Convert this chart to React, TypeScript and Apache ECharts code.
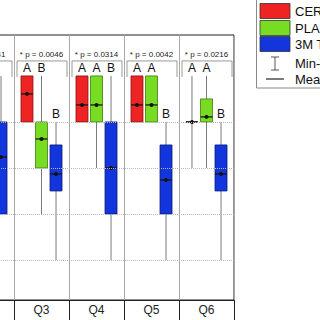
import React, { useEffect, useRef } from "react";
import * as echarts from "echarts";

const categories = ["Q2", "Q3", "Q4", "Q5", "Q6"];
// each entry: [min, q1, mean, q3, max]
const cerec = [
  [3, 4, 4.4, 5, 5],
  [4, 4, 4.61, 5, 5],
  [4, 4, 4.37, 5, 5],
  [4, 4, 4.37, 5, 5],
  [3, 4, 4, 4, 5],
];
const planmeca = [
  [3, 4, 4.3, 5, 5],
  [2, 3, 3.63, 4, 5],
  [3, 4, 4.37, 5, 5],
  [4, 4, 4.37, 5, 5],
  [3, 4, 4.11, 4.5, 5],
];
const trueDef = [
  [2, 2, 3.24, 4, 5],
  [1, 2.5, 2.87, 3.5, 4],
  [1, 2, 3, 4, 5],
  [1, 2, 2.74, 3.5, 4],
  [1, 2.5, 2.87, 3.5, 4],
];
const cerecLetters = ["", "A", "A", "A", "A"];
const planmecaLetters = ["", "B", "A", "A", "A"];
const trueDefLetters = ["", "B", "B", "B", "B"];
const pTexts = ["p = 0.1541", "* p = 0.0046", "* p = 0.0314", "* p = 0.0042", "* p = 0.0216"];
const gridValues = [1, 2, 3, 4];
const bracketLevel = 5;
const legendNames = ["CEREC", "PLANMECA", "3M True Definition", "Min-Max", "Mean"];

const colors = ["#ee2424", "#78dc22", "#1236dc"];
const strokes = ["#8a1010", "#3f7a10", "#0a1a7a"];
const FONT = "Liberation Sans, Arial, sans-serif";
const SHIFT = 41; // the chart canvas starts left of the visible page

function makeBoxSeries(name: string, values: number[][], letters: string[], idx: number) {
  return {
    type: "custom",
    name,
    clip: false,
    z: 3,
    data: values.map((v, i) => [i, ...v]),
    encode: { x: 0, y: [1, 2, 3, 4, 5] },
    renderItem: (params: any, api: any) => {
      const c = api.value(0);
      const band = api.size([1, 0])[0];
      const off = (idx - 1) * band * 0.264;
      const w = band * 0.218;
      const p = api.coord([c, api.value(1)]);
      const x = p[0] + off;
      const yMin = p[1];
      const yQ1 = api.coord([c, api.value(2)])[1];
      const yMean = api.coord([c, api.value(3)])[1];
      const yQ3 = api.coord([c, api.value(4)])[1];
      const yMax = api.coord([c, api.value(5)])[1];
      return {
        type: "group",
        children: [
          {
            type: "line",
            shape: { x1: x, y1: yMax, x2: x, y2: yMin },
            style: { stroke: "#7a7a7a", lineWidth: 1 },
          },
          {
            type: "rect",
            shape: { x: x - w / 2, y: yQ3, width: w, height: yQ1 - yQ3 },
            style: { fill: colors[idx], stroke: strokes[idx], lineWidth: 0.8 },
          },
          {
            type: "line",
            shape: { x1: x - w / 2, y1: yMean, x2: x + w / 2, y2: yMean },
            style: { stroke: "#111", lineWidth: 1.2 },
          },
          {
            type: "circle",
            shape: { cx: x, cy: yMean, r: 2 },
            style: { fill: "#111" },
          },
          {
            type: "text",
            style: {
              text: letters[params.dataIndex],
              x,
              y: yMax - 8,
              align: "center",
              verticalAlign: "middle",
              fontSize: 12,
              fontFamily: FONT,
              fill: "#111",
            },
          },
        ],
      };
    },
  };
}

export default function App() {
  const ref = useRef<HTMLDivElement>(null);
  useEffect(() => {
    if (!ref.current) return;
    const chart = echarts.init(ref.current, null, { renderer: "svg" });
    const legendItems: any[] = [
      {
        type: "rect",
        shape: { x: 256.5 + SHIFT, y: -5, width: 80, height: 93 },
        style: { fill: "#fff", stroke: "#8a8a8a", lineWidth: 1 },
      },
    ];
    const rowY = [11, 28, 44, 63, 79];
    legendNames.forEach((n, i) => {
      if (i < 3) {
        legendItems.push({
          type: "rect",
          shape: { x: 260 + SHIFT, y: rowY[i] - 7.5, width: 30, height: 15 },
          style: { fill: colors[i], stroke: "#333", lineWidth: 0.8 },
        });
      } else if (i === 3) {
        legendItems.push(
          { type: "line", shape: { x1: 275 + SHIFT, y1: 57, x2: 275 + SHIFT, y2: 70 }, style: { stroke: "#555", lineWidth: 1 } },
          { type: "line", shape: { x1: 271 + SHIFT, y1: 57, x2: 279 + SHIFT, y2: 57 }, style: { stroke: "#555", lineWidth: 1 } },
          { type: "line", shape: { x1: 271 + SHIFT, y1: 70, x2: 279 + SHIFT, y2: 70 }, style: { stroke: "#555", lineWidth: 1 } }
        );
      } else {
        legendItems.push({
          type: "line",
          shape: { x1: 266 + SHIFT, y1: rowY[i], x2: 284 + SHIFT, y2: rowY[i] },
          style: { stroke: "#222", lineWidth: 1.2 },
        });
      }
      legendItems.push({
        type: "text",
        style: {
          text: n,
          x: 295 + SHIFT,
          y: rowY[i],
          verticalAlign: "middle",
          fontSize: 13,
          fontFamily: FONT,
          fill: "#111",
        },
      });
    });

    const option: any = {
      animation: false,
      grid: {
        left: 0,
        right: 86,
        top: 35,
        bottom: 20,
        show: true,
        borderColor: "#222",
        borderWidth: 1,
        backgroundColor: "transparent",
      },
      xAxis: {
        type: "category",
        data: categories,
        axisLine: { show: true, lineStyle: { color: "#222" } },
        axisTick: { show: true, interval: 0, length: 20, lineStyle: { color: "#222" } },
        axisLabel: { fontSize: 12, color: "#222", fontFamily: FONT, margin: 4, interval: 0 },
        splitLine: { show: true, interval: 0, lineStyle: { color: "#a8a8a8", width: 1 } },
      },
      yAxis: {
        type: "value",
        min: 0.13,
        max: 5.89,
        show: false,
        splitLine: { show: false },
      },
      graphic: legendItems,
      series: [
        {
          type: "custom",
          name: "annot",
          clip: false,
          z: 2,
          data: categories.map((_, i) => [i, bracketLevel]),
          encode: { x: 0, y: 1 },
          renderItem: (params: any, api: any) => {
            const c = api.value(0);
            const band = api.size([1, 0])[0];
            const p = api.coord([c, api.value(1)]);
            const x0 = p[0] - band / 2 + 3;
            const x1 = p[0] + band / 2 - 2;
            const yTop = p[1] - 15;
            const yBot = p[1] + 1;
            return {
              type: "group",
              children: [
                {
                  type: "polyline",
                  shape: { points: [[x0, yBot], [x0, yTop], [x1, yTop], [x1, yBot]] },
                  style: { stroke: "#9a9a9a", lineWidth: 1, fill: "none" },
                },
                {
                  type: "text",
                  style: {
                    text: pTexts[params.dataIndex],
                    x: p[0],
                    y: p[1] - 21,
                    align: "center",
                    verticalAlign: "middle",
                    fontSize: 8,
                    fontFamily: FONT,
                    fill: "#222",
                  },
                },
              ],
            };
          },
          markLine: {
            silent: true,
            symbol: "none",
            label: { show: false },
            lineStyle: { type: "dotted", color: "#b8b8b8", width: 1 },
            data: gridValues.map((v) => ({ yAxis: v })),
          },
        },
        makeBoxSeries("CEREC", cerec, cerecLetters, 0),
        makeBoxSeries("PLANMECA", planmeca, planmecaLetters, 1),
        makeBoxSeries("3M True Definition", trueDef, trueDefLetters, 2),
      ],
    };
    chart.setOption(option);
    return () => chart.dispose();
  }, []);
  return (
    <div style={{ position: "fixed", left: 0, top: 0, width: 320, height: 320, overflow: "hidden", background: "#fff" }}>
      <div
        ref={ref}
        style={{ position: "absolute", left: -SHIFT, top: 0, width: 320 + SHIFT, height: 320 }}
      />
    </div>
  );
}
